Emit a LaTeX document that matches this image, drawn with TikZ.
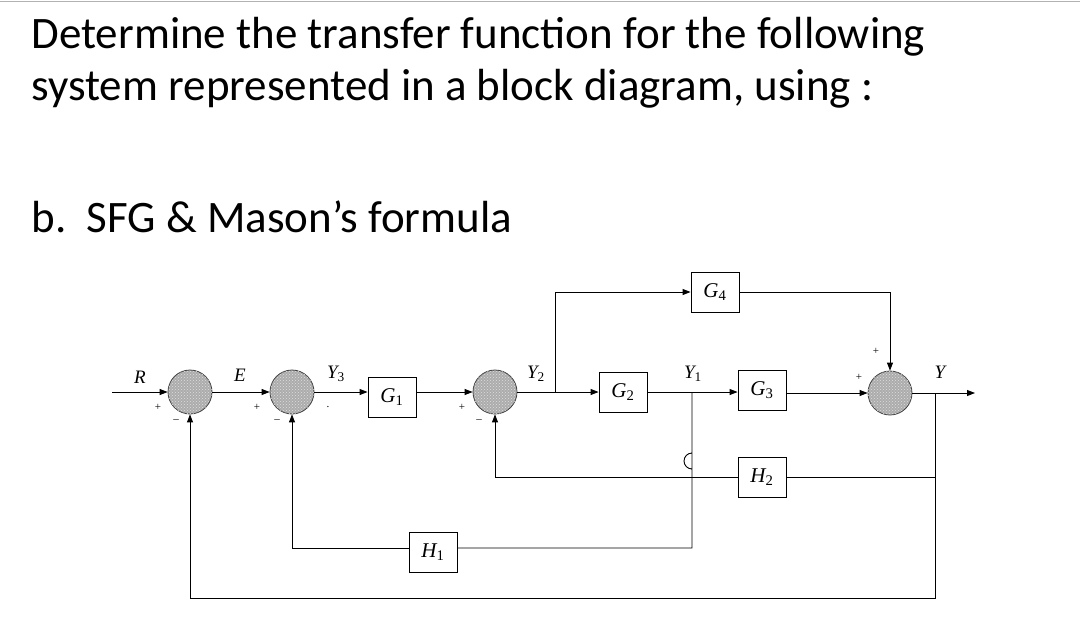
\documentclass[tikz,border=0pt]{standalone}
\usepackage{fontspec}
\setmainfont{Liberation Serif}
\newfontfamily\titlefont{Carlito}
\usetikzlibrary{arrows.meta,patterns}
\begin{document}
\begin{tikzpicture}[x=1pt,y=-1pt,
  blk/.style={draw,line width=0.9pt,minimum width=48pt,minimum height=40pt,inner sep=0pt,font=\fontsize{21}{21}\selectfont\itshape},
  sumj/.style={circle,draw=gray!50!black,line width=0.8pt,fill=gray!65,minimum size=44pt,inner sep=0pt,
     postaction={pattern=crosshatch dots,pattern color=gray!25}},
  ln/.style={line width=0.9pt},
  ar/.style={line width=0.9pt,-{Triangle[length=8pt,width=6pt]}},
  lab/.style={font=\fontsize{19}{19}\selectfont\itshape},
  sg/.style={font=\fontsize{11}{11}\selectfont}]
\useasboundingbox (0,0) rectangle (1080,622);
\fill[white] (0,0) rectangle (1080,622);
\draw[gray!60,line width=1pt] (0,1) -- (1080,1);
\node[anchor=west,font=\titlefont\fontsize{45}{45}\selectfont] (t1) at (28,37) {Determine the transfer function for the following};
\node[anchor=west,font=\titlefont\fontsize{45}{45}\selectfont] (t2) at (28,89) {system represented in a block diagram, using :};
\node[anchor=west,font=\titlefont\fontsize{45}{45}\selectfont] (t3) at (28,217) {b.\ \ SFG \& Mason’s formula};
% junctions
\node[sumj] (s1) at (190,392) {};
\node[sumj] (s2) at (292,392) {};
\node[sumj] (s3) at (495,392) {};
\node[sumj] (s4) at (890,393) {};
% blocks
\node[blk] (g1) at (392,397) {G\textsubscript{\upshape 1}};
\node[blk] (g2) at (623,392) {G\textsubscript{\upshape 2}};
\node[blk] (g3) at (762,390) {G\textsubscript{\upshape 3}};
\node[blk] (g4) at (715,292) {G\textsubscript{\upshape 4}};
\node[blk] (h2) at (762,477) {H\textsubscript{\upshape 2}};
\node[blk] (h1) at (433,552) {H\textsubscript{\upshape 1}};
% coordinates
\coordinate (in) at (112,392);
\coordinate (out) at (975,393);
\coordinate (b2) at (555,392);
\coordinate (by1) at (692,392);
\coordinate (by) at (935,393);
% forward path
\draw[ar] (in) -- (s1.west);
\draw[ar] (s1.east) -- (s2.west);
\draw[ar] (s2.east) -- (g1.west |- s2.east);
\draw[ar] (g1.east |- s3.west) -- (s3.west);
\draw[ar] (s3.east) -- (g2.west);
\draw[ar] (g2.east) -- (g3.west |- g2.east);
\draw[ar] (g3.east |- s4.west) -- (s4.west);
\draw[ar] (s4.east) -- (out);
% G4 branch
\draw[ar] (b2) |- (g4.west);
\draw[ar] (g4.east) -| (s4.north);
% H2 loop
\draw[ln] (by) |- (h2.east);
\draw[ln] (h2.west) -- (495,477);
\draw[ar] (495,477) -- (s3.south);
% H1 loop with jump over H2 line
\draw[ln] (by1) -- (692,469) arc (90:270:8) -- (692,548) -- (h1.east |- 0,548);
\draw[ln] (h1.west |- 0,548) -- (292,548);
\draw[ar] (292,548) -- (s2.south);
% outer loop
\draw[ln] (by) -- (935,598) -- (190,598);
\draw[ar] (190,598) -- (s1.south);
% labels
\node[lab] (lr) at (140,377) {R};
\node[lab] (le) at (240,375) {E};
\node[lab] (ly3) at (336,374) {Y\textsubscript{\upshape 3}};
\node[lab] (ly2) at (536,374) {Y\textsubscript{\upshape 2}};
\node[lab] (ly1) at (693,374) {Y\textsubscript{\upshape 1}};
\node[lab] (ly) at (940,372) {Y};
% signs
\node[sg] at (158,407) {+};
\node[sg] at (176,421) {--};
\node[sg] at (257,407) {+};
\node[sg] at (277,421) {--};
\node[sg] at (328,407) {.};
\node[sg] at (462,407) {+};
\node[sg] at (479,421) {--};
\node[sg] at (859,377) {+};
\node[sg] at (876,351) {+};
\end{tikzpicture}
\end{document}
